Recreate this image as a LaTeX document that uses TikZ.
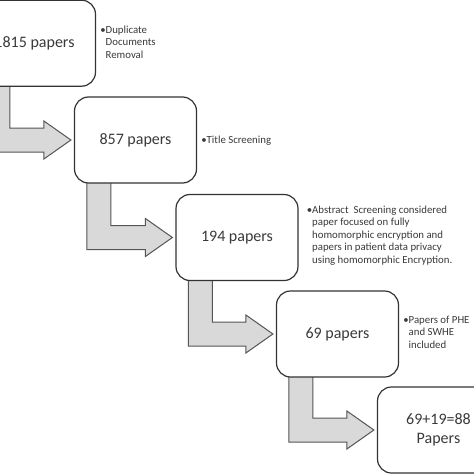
\documentclass[tikz,border=0pt]{standalone}
\usepackage{fontspec}
\setmainfont{Carlito}
\usetikzlibrary{calc}
\definecolor{boxline}{HTML}{333333}
\definecolor{txt}{HTML}{3A3A3A}
\definecolor{arrfill}{HTML}{D9D9D9}
\definecolor{arrline}{HTML}{555555}
\tikzset{
  paperbox/.style={draw=boxline, line width=1.2pt, fill=white, rounded corners=14pt,
    minimum width=122pt, minimum height=86pt, inner sep=0pt, align=center,
    text=txt, font=\fontsize{16}{19}\selectfont},
  annot/.style={anchor=west, inner sep=0pt, text=txt, font=\fontsize{10.8}{12.5}\selectfont},
  bentarrow/.style={fill=arrfill, draw=arrline, line width=1pt, line join=miter}
}
\newcommand{\bentar}[2]{%
  \draw[bentarrow] let \p1=(#1.south west), \p2=(#2.west) in
    (\x1+13pt,\y1+2pt) -- (\x1+37pt,\y1+2pt) -- (\x1+37pt,\y2+12pt) --
    (\x2-30pt,\y2+12pt) -- (\x2-30pt,\y2+19pt) -- (\x2-3pt,\y2) --
    (\x2-30pt,\y2-19pt) -- (\x2-30pt,\y2-12pt) -- (\x1+13pt,\y2-12pt) -- cycle;}
\newcommand{\bul}[1]{\begin{tabular}{@{}l@{}l@{}}#1\end{tabular}}
\begin{document}
\begin{tikzpicture}[x=1pt,y=-1pt]
\useasboundingbox (0,0) rectangle (474,474);
\fill[white] (0,0) rectangle (474,474);
% coordinates for boxes (centres)
\coordinate (c1) at (34.5,43.2);
\coordinate (c2) at (135.5,140);
\coordinate (c3) at (237,237.5);
\coordinate (c4) at (337.5,334);
\coordinate (c5) at (438.5,430);
% invisible placement nodes used for arrows (drawn first)
\node[paperbox, draw=none, fill=none] (p1) at (c1) {};
\node[paperbox, draw=none, fill=none] (p2) at (c2) {};
\node[paperbox, draw=none, fill=none] (p3) at (c3) {};
\node[paperbox, draw=none, fill=none] (p4) at (c4) {};
\node[paperbox, draw=none, fill=none] (p5) at (c5) {};
\bentar{p1}{p2}
\bentar{p2}{p3}
\bentar{p3}{p4}
\bentar{p4}{p5}
% boxes
\node[paperbox] (b1) at (c1) {1815 papers};
\node[paperbox] (b2) at (c2) {857 papers};
\node[paperbox] (b3) at (c3) {194 papers};
\node[paperbox] (b4) at (c4) {69 papers};
\node[paperbox] (b5) at (c5) {69+19=88\\Papers};
% annotations
\node[annot] (a1) at ($(b1.east)+(4,0)$) {\bul{\textbullet&Duplicate\\&Documents\\&Removal}};
\node[annot] (a2) at ($(b2.east)+(4,1)$) {\bul{\textbullet&Title Screening}};
\node[annot] (a3) at ($(b3.east)+(8,-2)$) {\bul{\textbullet&Abstract\ \ Screening considered\\&paper focused on fully\\&homomorphic encryption and\\&papers in patient data privacy\\&using homomorphic Encryption.}};
\node[annot] (a4) at ($(b4.east)+(4,-1)$) {\bul{\textbullet&Papers of PHE\\&and SWHE\\&included}};
\end{tikzpicture}
\end{document}
